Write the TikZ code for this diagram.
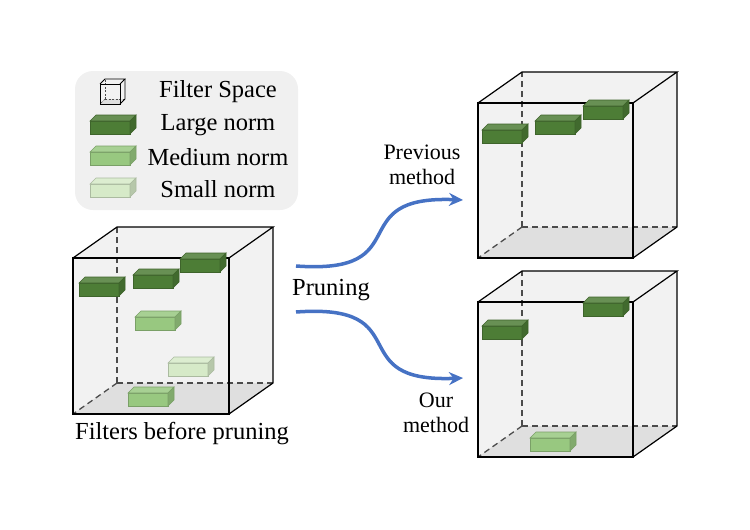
\documentclass[tikz,border=0pt]{standalone}
\usepackage{fontspec}
\setmainfont{Liberation Serif}
\usepackage{xcolor}
\usepackage{tikz}
\usetikzlibrary{positioning,arrows.meta}
\definecolor{large}{RGB}{77,125,54}
\definecolor{medium}{RGB}{152,200,128}
\definecolor{small}{RGB}{214,234,200}
\definecolor{arr}{RGB}{70,114,196}
\tikzset{lbl/.style={font=\fontsize{24.5}{27}\selectfont,align=center},
  edge/.style={line width=1.2pt},
  hid/.style={dash pattern=on 6pt off 4pt,line width=1.3pt,gray!60!black}}
% filter cube: front top-left corner (#1,#2), side #3, depth (#4,#5)
\newcommand{\filtercube}[5]{
  \fill[gray!10] (#1+#4,#2+#5) rectangle (#1+#3+#4,#2+#3+#5);
  \fill[gray!10] (#1,#2) -- (#1+#4,#2+#5) -- (#1+#3+#4,#2+#5) -- (#1+#3+#4,#2+#3+#5) -- (#1+#3,#2+#3) -- (#1,#2+#3) -- cycle;
  \fill[gray!25] (#1,#2+#3) -- (#1+#4,#2+#3+#5) -- (#1+#3+#4,#2+#3+#5) -- (#1+#3,#2+#3) -- cycle;
  \draw[hid] (#1+#4,#2+#3+#5) -- (#1+#4,#2+#5);
  \draw[hid] (#1+#4,#2+#3+#5) -- (#1+#3+#4,#2+#3+#5);
  \draw[hid] (#1+#4,#2+#3+#5) -- (#1,#2+#3);
  \draw[edge] (#1,#2) rectangle (#1+#3,#2+#3);
  \draw[edge] (#1,#2) -- (#1+#4,#2+#5) -- (#1+#3+#4,#2+#5) -- (#1+#3,#2);
  \draw[edge] (#1+#3+#4,#2+#5) -- (#1+#3+#4,#2+#3+#5) -- (#1+#3,#2+#3);
}
% norm box: front top-left (#1,#2), colour #3
\newcommand{\normbox}[3]{
  \draw[#3!80!black,fill=#3,line width=0.6pt] (#1,#2) rectangle (#1+40,#2+13);
  \draw[#3!80!black,fill=#3!85!white,line width=0.6pt] (#1,#2) -- (#1+6,#2-6) -- (#1+46,#2-6) -- (#1+40,#2) -- cycle;
  \draw[#3!80!black,fill=#3!85!black,line width=0.6pt] (#1+40,#2) -- (#1+46,#2-6) -- (#1+46,#2+7) -- (#1+40,#2+13) -- cycle;
}
\begin{document}
\begin{tikzpicture}[x=1pt,y=-1pt,>={Stealth[length=14pt,width=13pt]}]
  \useasboundingbox (0,0) rectangle (750,530);
  % legend
  \fill[gray!12,rounded corners=18pt] (75,71) rectangle (298,210);
  \begin{scope}[hid/.append style={line width=0.5pt,dash pattern=on 2pt off 1.5pt},edge/.append style={line width=0.8pt}]
    \filtercube{100}{84}{20}{5}{-5}
  \end{scope}
  \normbox{90}{121}{large}
  \normbox{90}{152}{medium}
  \normbox{90}{184}{small}
  \node[lbl] (space) at (218,92) {Filter Space};
  \node[lbl] (lnorm) at (218,125) {Large norm};
  \node[lbl] (mnorm) at (218,157) {Medium norm};
  \node[lbl] (snorm) at (218,189) {Small norm};
  % filters before pruning
  \filtercube{73}{258}{156}{44}{-31}
  \normbox{79}{283}{large}
  \normbox{133}{275}{large}
  \normbox{180}{259}{large}
  \normbox{135}{317}{medium}
  \normbox{168}{363}{small}
  \normbox{128}{393}{medium}
  \node[lbl] (before) at (182,434) {Filters before pruning};
  % previous method
  \filtercube{478}{103}{155}{44}{-31}
  \normbox{482}{130}{large}
  \normbox{535}{121}{large}
  \normbox{583}{106}{large}
  % our method
  \filtercube{478}{302}{155}{44}{-31}
  \normbox{482}{326}{large}
  \normbox{583}{303}{large}
  \normbox{530}{438}{medium}
  % pruning arrows
  \node[lbl] (prune) at (331,290) {Pruning};
  \node[lbl,font=\fontsize{22}{25}\selectfont] (prev) at (422,165) {Previous\\method};
  \node[lbl,font=\fontsize{22}{25}\selectfont] (ours) at (436,413) {Our\\method};
  \coordinate (s1) at (296,266);
  \coordinate (t1) at (463,200);
  \coordinate (s2) at (296,312);
  \coordinate (t2) at (463,378);
  \draw[->,arr,line width=3.5pt] (s1) .. controls (420,275) and (340,195) .. (t1);
  \draw[->,arr,line width=3.5pt] (s2) .. controls (420,303) and (340,383) .. (t2);
\end{tikzpicture}
\end{document}
